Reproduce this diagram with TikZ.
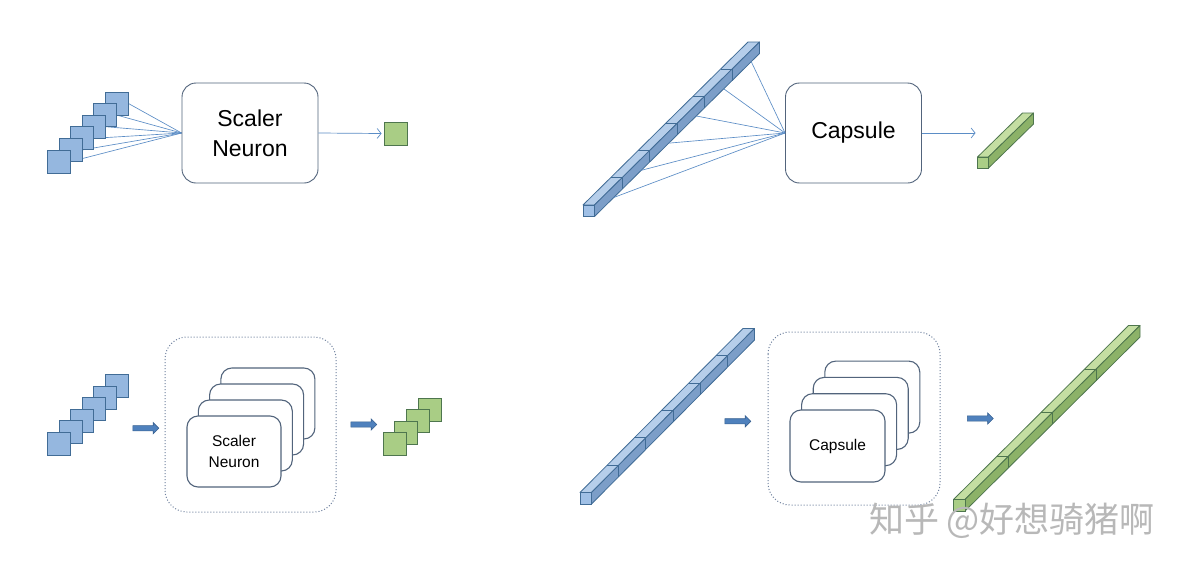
\documentclass[tikz,border=0pt]{standalone}
\usepackage{fontspec}
\setmainfont{Liberation Sans}
\newfontfamily\cjk{Noto Sans CJK SC}
\usetikzlibrary{arrows.meta,shapes.arrows,backgrounds}
\definecolor{bFill}{RGB}{149,183,223}
\definecolor{bEdge}{RGB}{65,108,150}
\definecolor{bTop}{RGB}{182,206,234}
\definecolor{bSide}{RGB}{124,158,200}
\definecolor{bFront}{RGB}{160,192,230}
\definecolor{gFill}{RGB}{169,205,133}
\definecolor{gEdge}{RGB}{78,118,78}
\definecolor{gTop}{RGB}{196,222,162}
\definecolor{gSide}{RGB}{140,178,104}
\definecolor{gFront}{RGB}{170,206,134}
\definecolor{fanC}{RGB}{91,141,198}
\definecolor{boxC}{RGB}{82,100,124}
\definecolor{dotC}{RGB}{110,128,158}
\definecolor{arrF}{RGB}{79,129,189}
\definecolor{arrE}{RGB}{58,98,146}
\newcommand{\cuboidbar}[8]{%
  \filldraw[fill=#8Top,draw=#8Edge,line width=0.8pt,line join=round] (#1,#2) -- ++(#3,0) -- ++(#4,#5) -- ++(-#3,0) -- cycle;
  \filldraw[fill=#8Side,draw=#8Edge,line width=0.8pt,line join=round] (#1+#3,#2) -- ++(0,#3) -- ++(#4,#5) -- ++(0,-#3) -- cycle;
  \filldraw[fill=#8Front,draw=#8Edge,line width=0.8pt] (#1,#2) rectangle ++(#3,#3);
  \ifnum#7>0
    \foreach \k in {1,...,#7}{%
      \draw[#8Edge,line width=0.8pt] (#1+\k/#6*#4,#2+\k/#6*#5) -- ++(#3,0) -- ++(0,#3);
    }%
  \fi
}
\tikzset{
  bsq/.style={draw=bEdge,fill=bFill,line width=0.9pt,minimum size=23pt,inner sep=0pt},
  gsq/.style={draw=gEdge,fill=gFill,line width=0.9pt,minimum size=23pt,inner sep=0pt},
  bigbox/.style={draw=boxC,line width=0.9pt,rounded corners=14pt,minimum width=136pt,minimum height=100pt,align=center,font=\fontsize{23}{30}\selectfont,fill=white},
  stackbox/.style={draw=boxC,line width=1.1pt,rounded corners=11pt,minimum width=94pt,minimum height=71pt,align=center,font=\fontsize{15.5}{21}\selectfont,fill=white},
  dotbox/.style={draw=dotC,dotted,line width=1pt,rounded corners=22pt},
  fan/.style={draw=fanC,line width=0.65pt},
  thinarrow/.style={draw=fanC,line width=0.7pt,-{Straight Barb[length=4pt,width=10pt]}},
  blockarrow/.style={single arrow,draw=arrE,fill=arrF,line width=0.6pt,inner sep=2.3pt,single arrow head extend=3pt,single arrow head indent=0pt,minimum height=26pt},
}
\begin{document}
\begin{tikzpicture}[x=1pt,y=-1pt]
\useasboundingbox (0,0) rectangle (1186,573);
\begin{scope}[on background layer]
  \fill[white] (0,0) rectangle (1186,573);
\end{scope}

% ---------- top left ----------
\foreach \i in {5,4,3,2,1,0}{
  \node[bsq] (s\i) at (59+11.5*\i,161.5-11.6*\i) {};
}
\node[bigbox] (sn) at (250,133) {Scaler\\Neuron};
\begin{scope}[on background layer]
  \foreach \i in {0,...,5}{ \draw[fan] (s\i.east) -- (sn.west); }
\end{scope}
\node[gsq] (g0) at (395.5,133.5) {};
\draw[thinarrow] (sn.east) -- ([xshift=-2pt]g0.west);

% ---------- top right ----------
\cuboidbar{583}{205}{11.5}{165}{-163}{6}{5}{b}
\node[bigbox] (cap) at (853.5,133) {Capsule};
\foreach \k in {1,...,6}{
  \coordinate (p\k) at (594.5+\k/6*165-0.3/6*165,216.5-\k/6*163+0.3/6*163);
  \draw[fan] (p\k) -- (cap.west);
}
\cuboidbar{977.5}{157}{11}{45}{-44}{1}{0}{g}
\coordinate (gb) at (975.5,133);
\draw[thinarrow] (cap.east) -- (gb);

% ---------- bottom left ----------
\foreach \i in {5,4,3,2,1,0}{
  \node[bsq] (t\i) at (59+11.5*\i,444-11.6*\i) {};
}
\node[blockarrow] (a1) at (144.5,428.2) {};
\draw[dotbox] (165,337) rectangle (336,512);
\foreach \k in {3,2,1}{
  \node[stackbox] (sb\k) at (234+11.3*\k,451.5-16*\k) {};
}
\node[stackbox] (sb0) at (234,451.5) {Scaler\\Neuron};
\node[blockarrow] (a2) at (362.5,424.5) {};
\foreach \i in {3,2,1,0}{
  \node[gsq] (h\i) at (394.7+11.7*\i,443.7-11.2*\i) {};
}

% ---------- bottom right ----------
\cuboidbar{580}{492.5}{11.5}{163}{-164}{6}{5}{b}
\node[blockarrow] (a3) at (736.5,421.3) {};
\draw[dotbox] (768,332) rectangle (940,505);
\foreach \k in {3,2,1}{
  \node[stackbox,minimum width=95pt,minimum height=72pt] (cb\k) at (837.5+11.6*\k,446-16.3*\k) {};
}
\node[stackbox,minimum width=95pt,minimum height=72pt] (cb0) at (837.5,446) {Capsule};
\node[blockarrow] (a4) at (979,418.5) {};
\cuboidbar{953.5}{499.5}{11.5}{175}{-174}{4}{3}{g}

% ---------- watermark ----------
\node[text=black!28,font=\cjk\fontsize{35}{35}\selectfont,inner sep=0pt] (wm) at (1012,521) {知乎 @好想骑猪啊};
\end{tikzpicture}
\end{document}
